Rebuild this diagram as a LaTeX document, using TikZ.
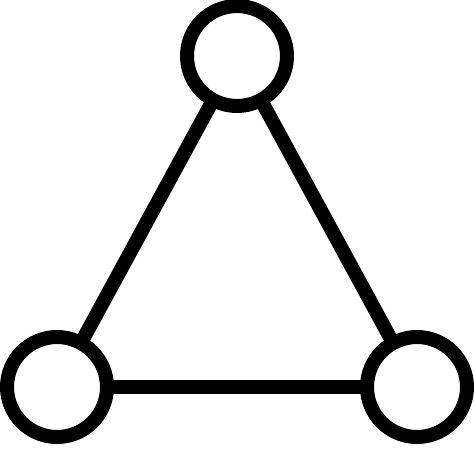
\documentclass[tikz,border=0pt]{standalone}
\usepackage{tikz}

\begin{document}
\begin{tikzpicture}[x=0.02cm,y=-0.02cm,
		vertex/.style={circle,draw,line width=0.28cm,minimum size=2cm,inner sep=0pt,outer sep=0pt},
		edge/.style={line width=0.28cm}]
			\useasboundingbox (0,0) rectangle (474,474);

			\node[vertex] (1) at (237,56) {};
			\node[vertex] (2) at (57,387) {};
			\node[vertex] (3) at (417,387) {};

			\draw[edge] (1) -- (2);
			\draw[edge] (1) -- (3);
			\draw[edge] (2) -- (3);
		\end{tikzpicture}
\end{document}
